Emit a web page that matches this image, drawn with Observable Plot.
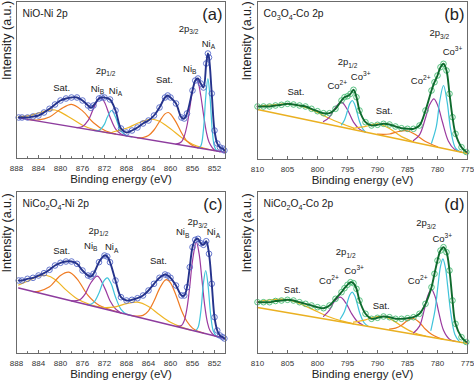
<!DOCTYPE html>
<html><head><meta charset="utf-8">
<script src="https://cdn.jsdelivr.net/npm/d3@7"></script>
<script src="https://cdn.jsdelivr.net/npm/@observablehq/plot@0.6"></script>
<style>
body{margin:0;background:#fff;}
#fig{position:relative;width:474px;height:381px;overflow:hidden;}
#fig svg{position:absolute;overflow:visible;}
</style></head><body><div id="fig"></div>
<script>
// ---------- Panel (a) NiO-Ni 2p ----------
const aEnergy = [887.6,887,886,885,884,883,882,881,880,879,878,877,876,875,874.5,874,873,872.5,872,871,870,869,868,867,866,865,864,863,862,861,860.5,860,859,858,857.5,857,856,855.5,855,854.5,854,853.5,853.2,853,852.5,852,851.5,851,850.5,850.2];
const aIntensity = [41,41,41,42,43,46,49.7,54,58,60,61,61,58,53,50.7,53,60,61,61,59,48,30,26,28,31,35,38,43,51,61,63,61,55,41,40,45,68,78,80,75,71,95,105,101,65,28,15,11,10,8];
const aBackground = [[887.6,40.6],[850.2,6.2]];
const aKinds = ["sat1","sat2","B","A","sat1","sat2","B","A"];
const aPeaks = [
  [[887.6,41.8],[886,42.6],[884,45.5],[882,48.3],[881,48.5],[880,46.4],[878,40],[876,33.3],[874,29],[872,26.4],[870,24.5]],
  [[886,39.2],[884,38.6],[882,41.5],[880,49.2],[878,54.1],[876,47.6],[874,35.8],[872,28.2],[870,24.5]],
  [[877,30.8],[876,32],[875,37.8],[874,50],[873,60.5],[872.7,61],[872,56.3],[871,41.6],[870,29.7],[869,24.5],[868,22.6]],
  [[874,28.1],[873,28.1],[872,34.4],[871.5,41.3],[870.7,48],[870,41.4],[869.5,33.5],[869,27.3],[868,22.9],[867,21.7]],
  [[871,25.3],[870,27.2],[868,30.2],[866,35.2],[864,39],[863,39],[862,37.2],[860,29.7],[858,21],[856,14.3],[854,10.5],[852,7.9]],
  [[866,20.7],[865,21],[864,23],[863,28.5],[862,37],[861,44.6],[860.4,46],[860,44.5],[859,36.4],[858,25.8],[857,17.4],[856,13],[855,10.6]],
  [[859,14.3],[858,16.8],[857.5,22.3],[857,33],[856.5,50],[856,67.5],[855.3,80],[855,77],[854.5,63],[854,44],[853.5,27],[853,16.6],[852,8.6],[851,6.9]],
  [[855,10.6],[854.5,12.5],[854,29.4],[853.6,61],[853.2,80],[852.8,60],[852.4,27.8],[852,11.8],[851.5,7.4],[851,6.9]]
];
const aLabelText = ["2p_{3/2}","Ni_{A}","Ni_{B}","Sat.","2p_{1/2}","Ni_{B}","Ni_{A}","Sat."];
const aLabelE = [856.7,853.1,856.5,861.1,871.8,873.3,870,879.8];
const aLabelI = [130,115,90,79,88,70,68,71];

// ---------- Panel (b) Co3O4-Co 2p ----------
const bEnergy = [810,809,808,807,806,805,804,803,802,801,800,799,798,797,796,795.5,795,794.5,794,793.5,793,792,791,790,789,788,787,786,785,784,783,782,781,780.5,780,779.5,779,778.5,778,777.5,777,776,775.2];
const bIntensity = [53,53,53,54,54.7,55.7,55,54,53,50.7,48.3,46.3,46.3,50.7,59,62.3,63.3,65.7,69.7,62.3,49,37.3,34,34.7,35.7,35,33,31.3,30.7,30.7,34,49,69,77.3,84,92.3,95.7,89,65.7,42.3,25.7,12.3,7.5];
const bBackground = [[810,50],[775.2,6.2]];
const bKinds = ["sat1","B","A","sat1","sat2","B","A"];
const bPeaks = [
  [[810,53],[808,54.5],[806,55.5],[805,55.5],[804,55],[802,52],[800,47],[798,41],[796,36],[794,31.5]],
  [[799,37.9],[798,42.4],[797,52.2],[796,57.4],[795,49.7],[794,37.4],[793,30.4],[792,27.4]],
  [[796,34.7],[795.5,39.4],[795,48.8],[794.6,56.1],[794.2,59],[793.8,55.1],[793.4,46.8],[793,38],[792.5,31],[792,27.4]],
  [[794,31.2],[792,33.1],[790.5,35.4],[789.5,35.2],[788,31],[786,22.9],[784,17.8]],
  [[790,25.3],[788,25.5],[786.5,28],[785,28.6],[783.5,24.2],[782,18],[780,12.7]],
  [[784,18.9],[783,24.6],[782,41.5],[781.3,54.9],[780.6,60.7],[779.9,53.1],[779.2,38],[778.2,18.6],[777.2,10.4],[776,7.3]],
  [[781,16.3],[780.2,32.9],[779.6,59.3],[779,74],[778.4,57.8],[777.8,29.9],[777,11.3],[776.2,7.5]]
];
const bLabelText = ["2p_{3/2}","Co^{3+}","Co^{2+}","Sat.","2p_{1/2}","Co^{2+}","Co^{3+}","Sat."];
const bLabelE = [779.7,777.5,782.8,788.9,795,796.7,792.8,803.6];
const bLabelI = [126.3,107.3,79,49,97.3,74,82.3,67.3];

// ---------- Panel (c) NiCo2O4-Ni 2p ----------
const cEnergy = [887.6,887,886,885,884,883,882,881,880,879,878,877,876,875,874.5,874,873,872,871.5,871,870,869,868,867,866,865,864,863,862,861,860.5,860,859,858,857.5,857,856.5,856,855.5,855,854.5,854,853.5,853,852.5,852,851.5,851,850.5,850.2];
const cIntensity = [73,73,74.7,75.7,78,80.3,83.7,88,90.7,92,92,89.7,83,78,77,79.7,91.3,98,97,91.3,73,56.3,53,53.7,55.3,58,63,69.7,75.7,79,78,75.7,68,58,58,66.3,86.3,106.3,113.7,114.7,110.3,108.7,112.3,99.7,69.7,36.3,23,18,16.3,15];
const cBackground = [[887.6,65.5],[850.2,15.3]];
const cKinds = ["sat1","sat2","B","A","sat1","sat2","B","A"];
const cPeaks = [
  [[887.6,68.5],[886,72.2],[884,77.4],[882.5,78],[881,74.1],[879,63.6],[877,54.8],[875,49.8],[873,46.6]],
  [[885,61.9],[884,62.2],[882,66.7],[880,78],[878.5,81.3],[877,74.7],[875,58.1],[873,48.2],[871,44],[869,40.5]],
  [[878,52.6],[876.5,53.8],[875.5,59.7],[874.5,70.5],[873.3,77.3],[872,65.9],[871,52.8],[870,44.6],[869,40.5]],
  [[875,48.5],[874,50.9],[873,60.6],[872.2,71.8],[871.5,75.7],[870.8,69.9],[870,56.5],[869,44.2],[868,39.4],[867,37.9]],
  [[873,46.6],[872,45.9],[870,46.7],[868,49.8],[866,51.3],[864,47],[862,38.7],[860,31.2],[858,26.4],[856,23]],
  [[867,37.9],[866,37.3],[865,38.1],[864,42.7],[863,52.4],[862,64.9],[861,73.3],[860.6,73.7],[860,70.7],[859,58.3],[858,43.1],[857,32],[856,25.4],[855,22.2],[854,20.4]],
  [[859,27.1],[858,28],[857.5,32.9],[857,45.4],[856.5,67],[856,92.7],[855.3,111.3],[854.8,99.8],[854.3,74.8],[853.8,48.9],[853.3,31.4],[852.8,22.7],[852,17.8],[851,16.3]],
  [[855.5,22.4],[855,25.9],[854.5,41.4],[854,70.8],[853.6,83],[853.2,69.7],[852.7,39],[852.2,22.2],[851.6,17.1],[851,16.3]]
];
const cLabelText = ["2p_{3/2}","Ni_{A}","Ni_{B}","Sat.","2p_{1/2}","Ni_{B}","Ni_{A}","Sat."];
const cLabelE = [855.1,852.2,857.8,862.2,873.1,874.5,870.7,879.8];
const cLabelI = [131.3,121.3,121.3,93,123,108,106.3,103];

// ---------- Panel (d) NiCo2O4-Co 2p ----------
const dEnergy = bEnergy;
const dIntensity = [51.3,51.3,51.3,52.5,53,53.7,53,51.3,49.7,48,46.3,45.3,48,54.7,61.3,65.3,68.7,71.3,70.3,64.7,53,39.7,34.7,35.7,37,36.3,34.7,34.7,35.3,36.3,39.7,49.7,66.3,79.7,93,103,106.3,101.3,83,53,29.7,16.3,11.5];
const dBackground = [[810,46],[775.2,10.2]];
const dKinds = ["sat1","B","A","sat1","sat2","B","A"];
const dPeaks = [
  [[810,51.9],[808,53.5],[806,54.3],[805,53.7],[804,52.3],[802,47.4],[800,41.7],[798,36.5],[796,32.6],[794,29.7]],
  [[799,37.1],[798,43.4],[797.2,51.9],[796.2,56.3],[795.2,49.8],[794.4,40.7],[793.4,32.3],[792.4,28.3]],
  [[796.2,34.5],[795.5,42.1],[795,51.8],[794.6,58.7],[794.2,61.3],[793.8,57.9],[793.4,50.2],[792.9,39.5],[792.2,30.5],[791.5,27.1]],
  [[794,31.3],[792,33.7],[790.5,36.5],[789,37],[787.5,33.4],[786,27.4],[784,21],[782,17.5]],
  [[788,24.3],[787,25.4],[786,28.3],[785,33],[784,35],[783,31],[782,24.2],[781,19.2],[780,16.1],[779,14.1]],
  [[784,20.5],[783,27.4],[782.2,43.8],[781.6,58.1],[781,64.2],[780.4,56.9],[779.8,41.4],[779,23.3],[778,14.3],[777,12.1]],
  [[781.1,23.1],[780.4,43.8],[779.9,69],[779.5,87.1],[779.1,94.7],[778.7,86.3],[778.3,67.4],[777.8,41.1],[777.1,19],[776.3,11.3]]
];
const dLabelText = ["2p_{3/2}","Co^{3+}","Co^{2+}","Sat.","2p_{1/2}","Co^{2+}","Co^{3+}","Sat."];
const dLabelE = [781.9,779.2,783.3,789.4,795.3,798.1,793.9,804.2];
const dLabelI = [130.3,114.7,73,48,101.3,73,83,63.7];

// ---------- axis ticks ----------
const niMajor = [888,884,880,876,872,868,864,860,856,852];
const niMinor = [886,882,878,874,870,866,862,858,854,850];
const coMajor = [810,805,800,795,790,785,780,775];
const coMinor = [807.5,802.5,797.5,792.5,787.5,782.5,777.5];
const xTitle = "Binding energy (eV)";
const yTitle = "Intensity (a.u.)";

// ---------- styles ----------
const FONT = "'Liberation Sans', Arial, Helvetica, sans-serif";
const kindColor = {sat1:"#efb524", sat2:"#ef7b23", B:"#9b3a9f", A:"#3fc3da"};

function richify(svg){
  svg.querySelectorAll("g.rich text").forEach(t=>{
    const s = t.textContent;
    if(!/[_^]\{/.test(s)) return;
    const fs = parseFloat(t.closest("g").getAttribute("font-size")) || 10;
    const parts = []; const re = /([_^])\{([^}]*)\}/g; let last=0, m;
    while((m=re.exec(s))){ if(m.index>last) parts.push({t:s.slice(last,m.index),k:""}); parts.push({t:m[2],k:m[1]}); last=re.lastIndex; }
    if(last<s.length) parts.push({t:s.slice(last),k:""});
    while(t.firstChild) t.removeChild(t.firstChild);
    let cur=0;
    for(const p of parts){
      const ts=document.createElementNS("http://www.w3.org/2000/svg","tspan");
      const shift = p.k==="_"?0.3*fs:p.k==="^"?-0.4*fs:0;
      ts.setAttribute("dy", (shift-cur).toFixed(2)); cur=shift;
      if(p.k) ts.setAttribute("font-size",(0.7*fs).toFixed(1));
      ts.textContent=p.t; t.appendChild(ts);
    }
  });
}

function panel(o){
  const pts = o.energy.map((e,i)=>({e, v:o.intensity[i]}));
  const labels = o.labelText.map((t,i)=>({t, e:o.labelE[i], v:o.labelI[i]}));
  const marks = [
    ...o.peaks.map((p,i)=>Plot.line(p,{x:d=>d[0],y:d=>d[1],stroke:kindColor[o.kinds[i]],strokeWidth:1.2,curve:"catmull-rom"})),
    Plot.line(o.background,{x:d=>d[0],y:d=>d[1],stroke:o.baseColor,strokeWidth:1.4}),
    Plot.dot(pts,{x:"e",y:"v",r:2.8,stroke:o.dotColor,strokeWidth:0.9,fill:"none"}),
    Plot.line(pts,{x:"e",y:"v",stroke:o.fitColor,strokeWidth:1.9,curve:"catmull-rom"}),
    Plot.frame({stroke:"#6b6b6b",strokeWidth:1}),
    Plot.ruleX(o.major,{y1:0,y2:3,stroke:"#6b6b6b"}),
    Plot.ruleX(o.minor,{y1:0,y2:1.8,stroke:"#6b6b6b"}),
    Plot.axisX({ticks:o.major,tickSize:0,tickPadding:6.5,fontSize:8,tickFormat:d=>String(d),label:null,color:"#333"}),
    Plot.text([xTitle],{frameAnchor:"bottom",lineAnchor:"middle",dy:20.5,fontSize:11.5,fill:"#222"}),
    Plot.text([yTitle],{frameAnchor:"left",lineAnchor:"middle",rotate:-90,dx:o.yDx,fontSize:12.5,fill:"#222"}),
    Plot.text([o.title],{frameAnchor:"top-left",lineAnchor:"middle",textAnchor:"start",dx:6,dy:12,fontSize:10.3,fill:"#222",className:"rich"}),
    Plot.text([o.tag],{frameAnchor:"top-right",lineAnchor:"middle",textAnchor:"end",dx:-3,dy:13,fontSize:16.5,fill:"#222"}),
    Plot.text(labels,{x:"e",y:"v",text:"t",fontSize:9.5,fill:"#222",className:"rich"})
  ];
  const svg = Plot.plot({
    width:o.W, height:o.H, marginTop:o.mt, marginBottom:o.mb, marginLeft:o.ml, marginRight:o.mr,
    x:{domain:o.xDomain, axis:null}, y:{domain:[0,o.yMax], axis:null},
    style:{fontFamily:FONT, fontSize:"10px", background:"transparent", overflow:"visible"},
    marks
  });
  richify(svg);
  svg.style.left=o.left+"px"; svg.style.top=o.top+"px";
  document.getElementById("fig").appendChild(svg);
}

const niBlue = {dotColor:"#5568c8", fitColor:"#25338c", baseColor:"#8d3c9e"};
const coGreen = {dotColor:"#43bb72", fitColor:"#0e6a2d", baseColor:"#eab021"};

panel({...niBlue, left:0, top:0, W:237, H:190, mt:1, mb:32, ml:16, mr:12, xDomain:[888,850], yMax:157,
  major:niMajor, minor:niMinor, energy:aEnergy, intensity:aIntensity, background:aBackground, kinds:aKinds, peaks:aPeaks,
  labelText:aLabelText, labelE:aLabelE, labelI:aLabelI, title:"NiO-Ni 2p", tag:"(a)", yDx:-10});
panel({...coGreen, left:237, top:0, W:237, H:190, mt:1, mb:31, ml:20, mr:7, xDomain:[810,775], yMax:158,
  major:coMajor, minor:coMinor, energy:bEnergy, intensity:bIntensity, background:bBackground, kinds:bKinds, peaks:bPeaks,
  labelText:bLabelText, labelE:bLabelE, labelI:bLabelI, title:"Co_{3}O_{4}-Co 2p", tag:"(b)", yDx:-11});
panel({...niBlue, left:0, top:190, W:237, H:191, mt:1, mb:28, ml:16, mr:12, xDomain:[888,850], yMax:162,
  major:niMajor, minor:niMinor, energy:cEnergy, intensity:cIntensity, background:cBackground, kinds:cKinds, peaks:cPeaks,
  labelText:cLabelText, labelE:cLabelE, labelI:cLabelI, title:"NiCo_{2}O_{4}-Ni 2p", tag:"(c)", yDx:-10});
panel({...coGreen, left:237, top:190, W:237, H:191, mt:1, mb:28, ml:20, mr:7, xDomain:[810,775], yMax:162,
  major:coMajor, minor:coMinor, energy:dEnergy, intensity:dIntensity, background:dBackground, kinds:dKinds, peaks:dPeaks,
  labelText:dLabelText, labelE:dLabelE, labelI:dLabelI, title:"NiCo_{2}O_{4}-Co 2p", tag:"(d)", yDx:-11});
</script></body></html>
